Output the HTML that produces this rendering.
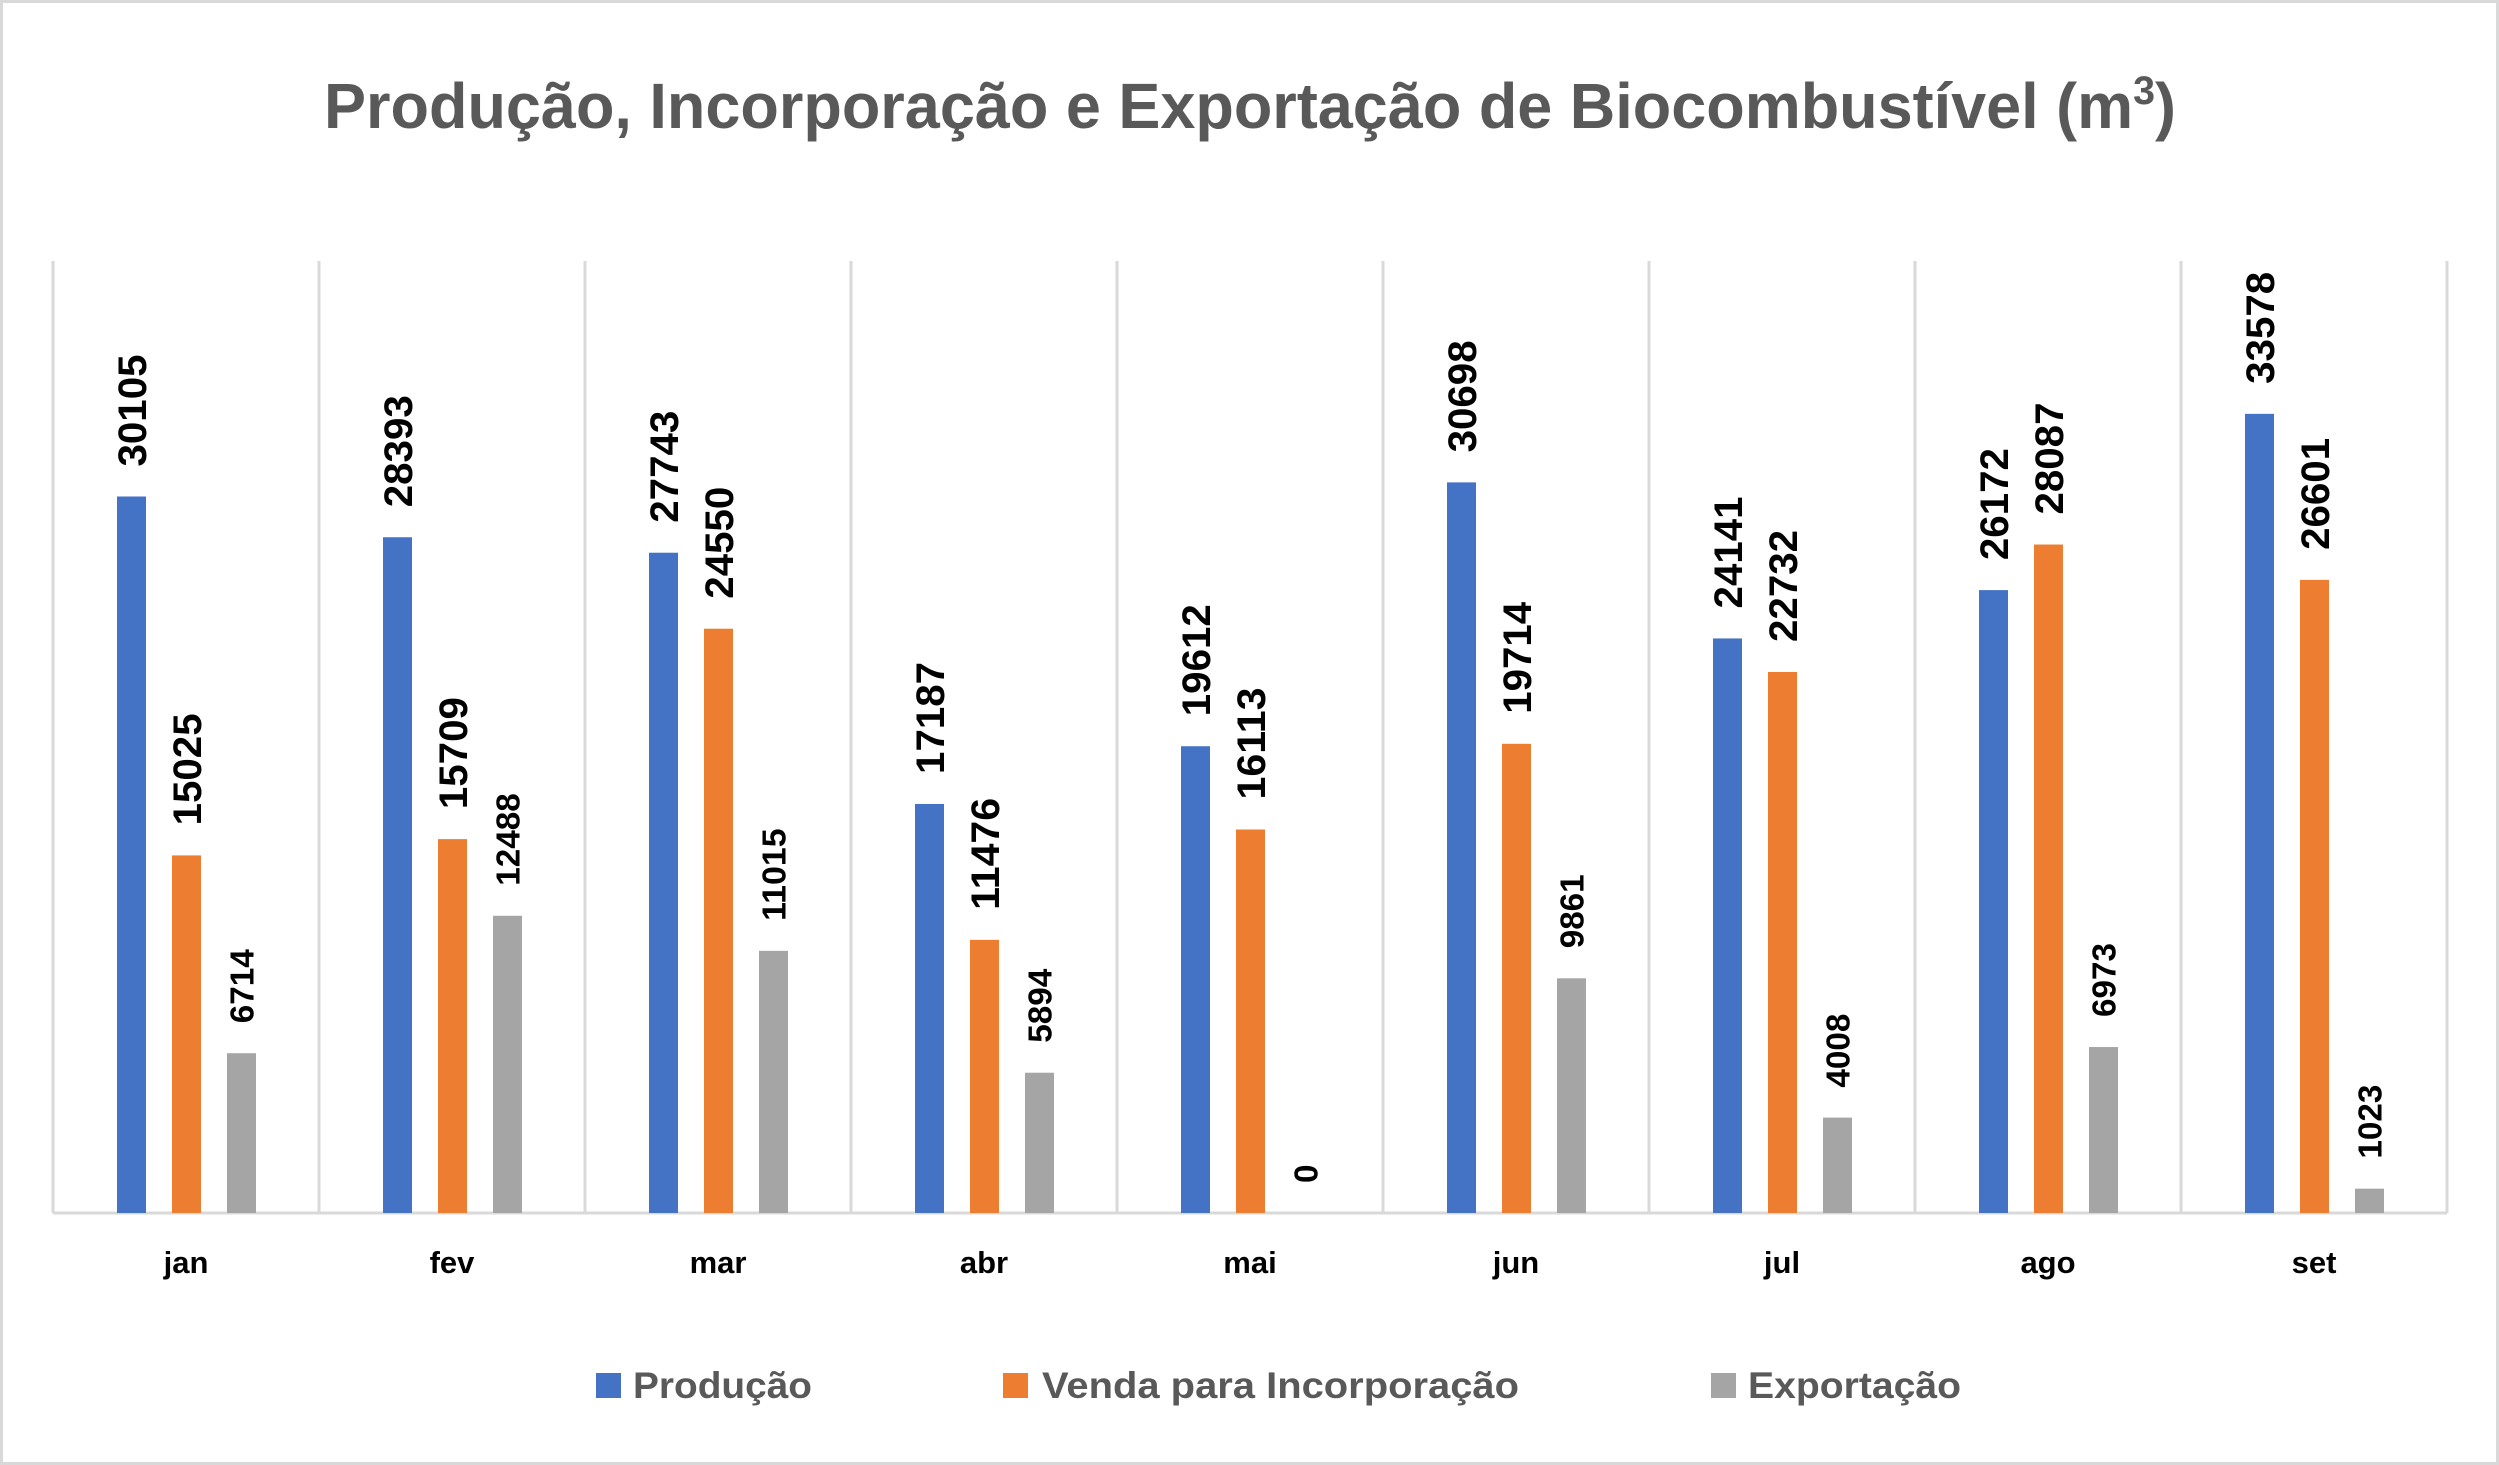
<!DOCTYPE html>
<html><head><meta charset="utf-8"><style>
html,body{margin:0;padding:0;background:#fff;}
svg{display:block;}
</style></head><body>
<svg id="chart" width="2499" height="1465" viewBox="0 0 2499 1465" xmlns="http://www.w3.org/2000/svg">
<rect x="1.5" y="1.5" width="2496" height="1462" fill="#fff" stroke="#d9d9d9" stroke-width="3"/>
<text x="324" y="128" textLength="1852" lengthAdjust="spacingAndGlyphs" font-family="Liberation Sans, sans-serif" font-weight="bold" font-size="64" fill="#595959">Produção, Incorporação e Exportação de Biocombustível (m<tspan font-size="40" dy="-24">3</tspan><tspan dy="24">)</tspan></text>
<g id="grid"></g>
<g id="bars"></g>
<g id="labels"></g>
<g id="cats"></g>
<g>
<rect x="596" y="1373" width="25" height="25" fill="#4472c4"/>
<text x="633" y="1398" textLength="179" lengthAdjust="spacingAndGlyphs" font-family="Liberation Sans, sans-serif" font-weight="bold" font-size="37" fill="#595959">Produção</text>
<rect x="1003" y="1373" width="25" height="25" fill="#ed7d31"/>
<text x="1042" y="1398" textLength="477" lengthAdjust="spacingAndGlyphs" font-family="Liberation Sans, sans-serif" font-weight="bold" font-size="37" fill="#595959">Venda para Incorporação</text>
<rect x="1711" y="1373" width="25" height="25" fill="#a5a5a5"/>
<text x="1748" y="1398" textLength="213" lengthAdjust="spacingAndGlyphs" font-family="Liberation Sans, sans-serif" font-weight="bold" font-size="37" fill="#595959">Exportação</text>
</g>
</svg>
<script>
const categories = ["jan","fev","mar","abr","mai","jun","jul","ago","set"];
const producao = [30105,28393,27743,17187,19612,30698,24141,26172,33578];
const venda = [15025,15709,24550,11476,16113,19714,22732,28087,26601];
const exportacao = [6714,12488,11015,5894,0,9861,4008,6973,1023];
const yMax = 40000;

const NS = "http://www.w3.org/2000/svg";
const plotLeft = 53, plotRight = 2447, baseY = 1213, plotTop = 261;
const catW = (plotRight - plotLeft) / categories.length;
function yScale(v){ return baseY - (v / yMax) * (baseY - plotTop); }
function xCat(i){ return plotLeft + i * catW; }
function mk(tag, attrs, parent){
  const el = document.createElementNS(NS, tag);
  for (const k in attrs) el.setAttribute(k, attrs[k]);
  parent.appendChild(el);
  return el;
}
const grid = document.getElementById('grid');
const bars = document.getElementById('bars');
const labels = document.getElementById('labels');
const cats = document.getElementById('cats');

for (let i = 0; i <= categories.length; i++) {
  const l = mk('line', {x1:xCat(i), x2:xCat(i), y1:plotTop, y2:baseY, stroke:'#d9d9d9', 'stroke-width':3}, grid);
  
  
}
const ax = mk('line', {x1:plotLeft, x2:plotRight, y1:baseY, y2:baseY, stroke:'#d9d9d9', 'stroke-width':3}, grid);



const series = [
  {name:'producao', vals:producao, color:'#4472c4', off:64, big:true},
  {name:'venda', vals:venda, color:'#ed7d31', off:119, big:true},
  {name:'exportacao', vals:exportacao, color:'#a5a5a5', off:174, big:false}
];
const bw = 29;
categories.forEach((c, i) => {
  series.forEach(s => {
    const v = s.vals[i];
    const x = xCat(i) + s.off;
    const top = yScale(v);
    const r = mk('rect', {x:x, y:top, width:bw, height:Math.max(0, baseY - top), fill:s.color}, bars);
    
    
    const cx = x + bw / 2;
    const fs = s.big ? 40 : 33;
    const str = String(v);
    const len = s.big ? str.length * 22.4 : str.length * 18.5;
    const ly = top - 30;
    const t = mk('text', {x:0, y:0, transform:'translate(' + (cx + fs*0.36) + ',' + ly + ') rotate(-90)',
      'font-family':'Liberation Sans Narrow, Liberation Sans, sans-serif', 'font-weight':'bold', 'font-size':fs,
      fill:'#000', textLength:len, lengthAdjust:'spacingAndGlyphs'}, labels);
    t.textContent = str;
    
    
  });
  const ct = mk('text', {x:xCat(i) + catW/2, y:1273, 'text-anchor':'middle', 'font-family':'Liberation Sans, sans-serif',
    'font-weight':'bold', 'font-size':31, fill:'#000'}, cats);
  ct.textContent = c;
  
  
});
</script>
</body></html>
